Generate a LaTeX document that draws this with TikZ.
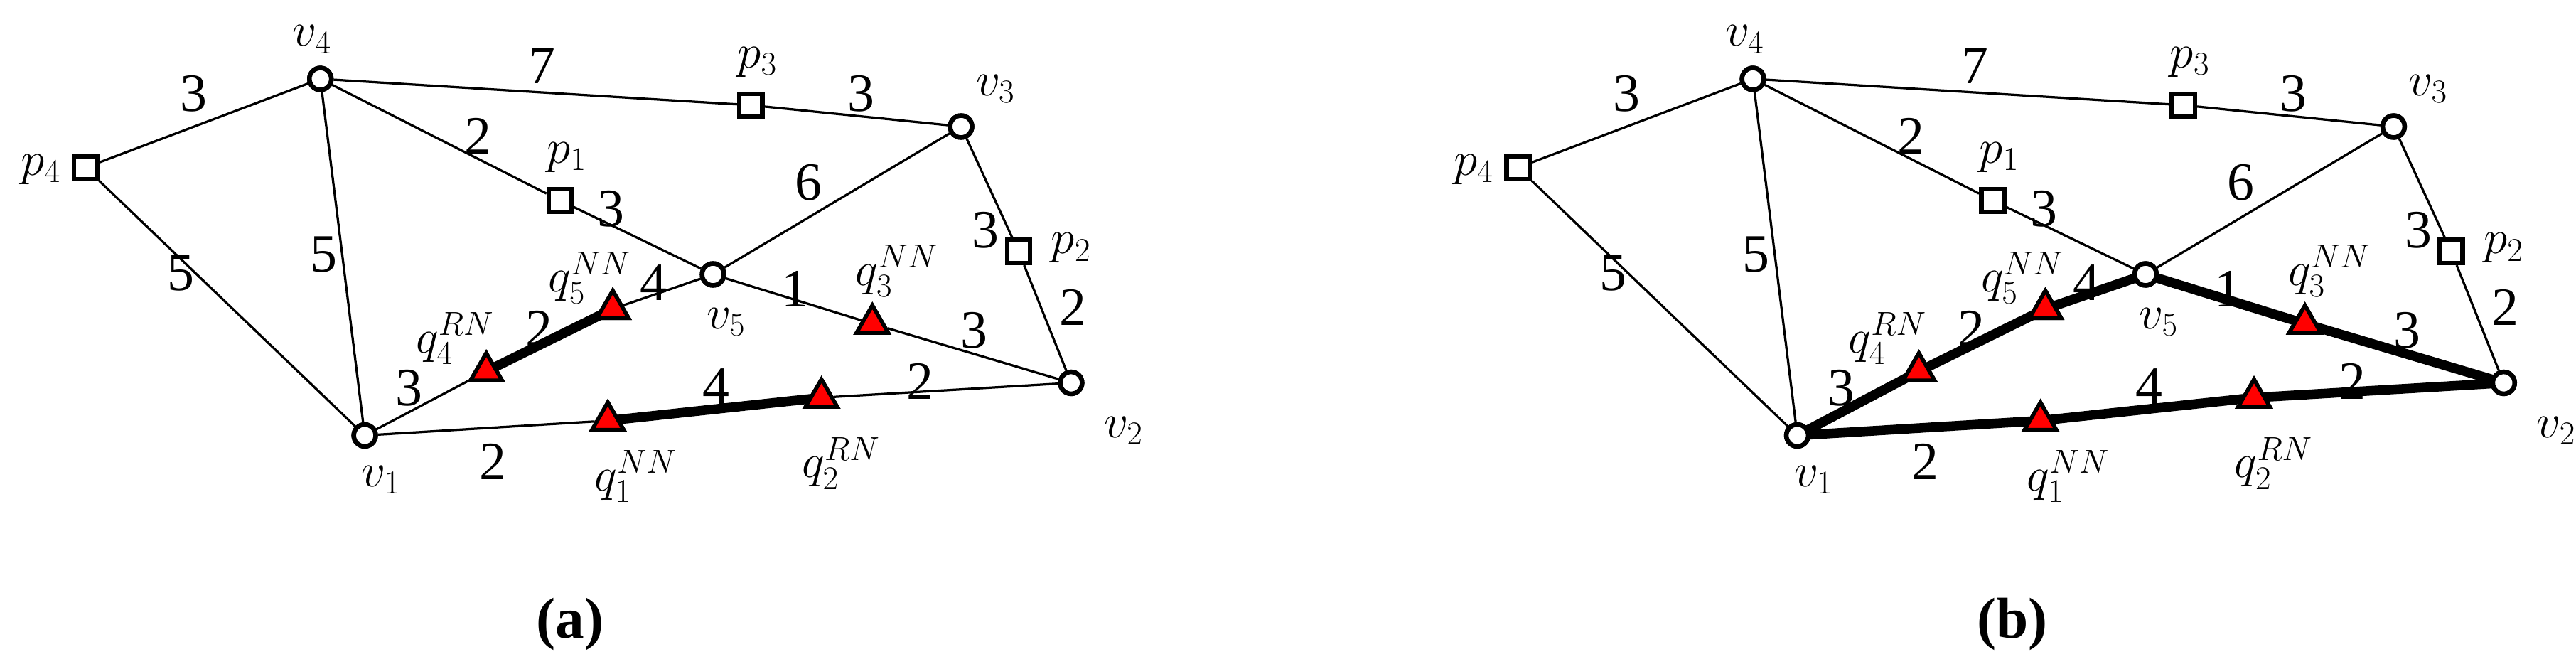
\documentclass[tikz,border=0pt]{standalone}
\usepackage{fontspec}
\setmainfont{Liberation Serif}
\usetikzlibrary{shapes.geometric}
\begin{document}
\begin{tikzpicture}[x={(0.03cm,0)},y={(0,-0.03cm)},
  vert/.style={circle,draw,line width=2.4pt,fill=white,minimum size=0.4cm,inner sep=0pt},
  poi/.style={rectangle,draw,line width=2.4pt,fill=white,minimum size=0.42cm,inner sep=0pt},
  qry/.style={isosceles triangle,isosceles triangle apex angle=60,shape border rotate=90,draw,line width=2pt,fill=red,minimum size=0.5cm,inner sep=0pt},
  ed/.style={line width=1.2pt},
  hv/.style={line width=5pt},
  lb/.style={font=\fontsize{26}{30}\selectfont},
  wt/.style={font=\fontsize{28}{32}\selectfont}]
\useasboundingbox (0,0) rectangle (1568,407);
\foreach \s/\tag/\b in {0/a/0,872/b/1}{
\begin{scope}[xshift=\s*0.03cm]
\node[vert] (v4\tag) at (195,48) {};
\node[vert] (v3\tag) at (585,77) {};
\node[vert] (v5\tag) at (434,167) {};
\node[vert] (v2\tag) at (652,233) {};
\node[vert] (v1\tag) at (222,265) {};
\node[poi] (p3\tag) at (457,64) {};
\node[poi] (p4\tag) at (52,102) {};
\node[poi] (p1\tag) at (341,122) {};
\node[poi] (p2\tag) at (620,153) {};
\node[qry] (q4\tag) at (296,226) {};
\node[qry] (q5\tag) at (373,188) {};
\node[qry] (q3\tag) at (531,197) {};
\node[qry] (q1\tag) at (370,256) {};
\node[qry] (q2\tag) at (500,242) {};
\draw[ed] (p4\tag)--(v4\tag) (p4\tag)--(v1\tag) (v4\tag)--(v1\tag) (v4\tag)--(p3\tag) (p3\tag)--(v3\tag)
 (v4\tag)--(p1\tag) (p1\tag)--(v5\tag) (v5\tag)--(v3\tag) (v3\tag)--(p2\tag) (p2\tag)--(v2\tag);
\ifnum\b=0
 \draw[ed] (v5\tag)--(q3\tag)--(v2\tag) (v1\tag)--(q4\tag) (q5\tag)--(v5\tag) (v1\tag)--(q1\tag) (q2\tag)--(v2\tag);
 \draw[hv] (q4\tag.center)--(q5\tag.center) (q1\tag.center)--(q2\tag.center);
\else
 \draw[hv] (v1\tag.center)--(q4\tag.center)--(q5\tag.center)--(v5\tag.center)--(q3\tag.center)--(v2\tag.center)
   (v1\tag.center)--(q1\tag.center)--(q2\tag.center)--(v2\tag.center);
\fi
\foreach \n in {v4,v3,v5,v2,v1}{\node[vert] at (\n\tag) {};}
\foreach \n in {p1,p2,p3,p4}{\node[poi] at (\n\tag) {};}
\foreach \n in {q1,q2,q3,q4,q5}{\node[qry] at (\n\tag) {};}
\node[lb] (lv4\tag) at (190,24) {$v_4$};
\node[lb] (lv3\tag) at (606,54) {$v_3$};
\node[lb] (lv5\tag) at (442,196) {$v_5$};
\node[lb] (lv2\tag) at (684,262) {$v_2$};
\node[lb] (lv1\tag) at (232,292) {$v_1$};
\node[lb] (lp1\tag) at (345,96) {$p_1$};
\node[lb] (lp2\tag) at (652,151) {$p_2$};
\node[lb] (lp3\tag) at (461,38) {$p_3$};
\node[lb] (lp4\tag) at (25,103) {$p_4$};
\node[lb] (lq4\tag) at (277,206) {$q_4^{RN}$};
\node[lb] (lq5\tag) at (359,169) {$q_5^{NN}$};
\node[lb] (lq3\tag) at (546,165) {$q_3^{NN}$};
\node[lb] (lq1\tag) at (387,290) {$q_1^{NN}$};
\node[lb] (lq2\tag) at (512,282) {$q_2^{RN}$};
\foreach \w/\x/\y in {3/118/57,7/330/40,3/524/57,2/291/83,3/372/127,6/492/111,3/600/140,5/197/155,5/110/166,4/398/172,1/484/176,2/653/187,2/328/200,3/593/201,3/249/236,4/436/235,2/560/232,2/300/281}
  {\node[wt] at (\x,\y) {\w};}
\end{scope}}
\node[font=\bfseries\fontsize{30}{34}\selectfont] (ca) at (347,380) {(a)};
\node[font=\bfseries\fontsize{30}{34}\selectfont] (cb) at (1225,380) {(b)};
\end{tikzpicture}
\end{document}
